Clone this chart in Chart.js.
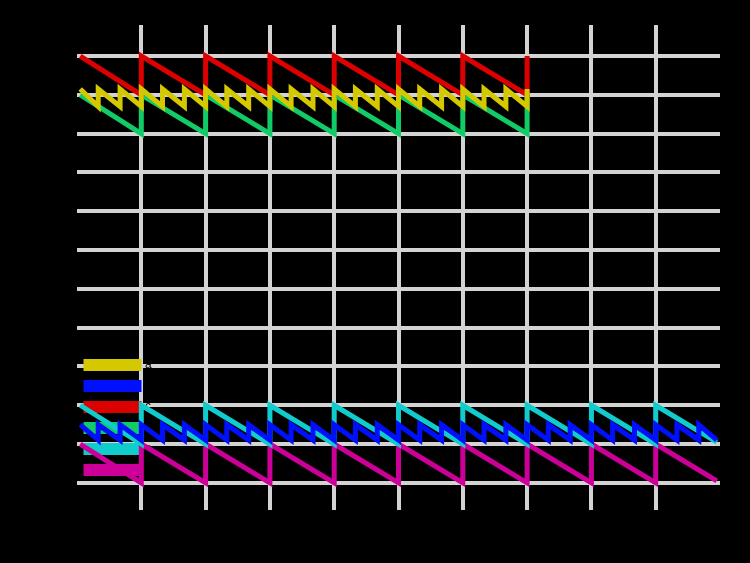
<!DOCTYPE html>
<html>
<head>
<meta charset="utf-8">
<script src="https://cdn.jsdelivr.net/npm/chart.js@4/dist/chart.umd.min.js"></script>
<style>
  html, body { margin: 0; background: #000; }
  #wrap { width: 750px; height: 563px; }
</style>
</head>
<body>
<div id="wrap"><canvas id="c"></canvas></div>
<script>
// sawtooth x positions (one period = 1 unit)
const bigX7  = [0.05,1,1,2,2,3,3,4,4,5,5,6,6,7,7];
const bigX10 = [0.05,1,1,2,2,3,3,4,4,5,5,6,6,7,7,8,8,9,9,9.95];
const smallX7 = [0.05,0.33,0.33,0.67,0.67,1,1,1.33,1.33,1.67,1.67,2,2,2.33,2.33,2.67,2.67,3,3,3.33,3.33,3.67,3.67,4,4,4.33,4.33,4.67,4.67,5,5,5.33,5.33,5.67,5.67,6,6,6.33,6.33,6.67,6.67,7,7];
const smallX10 = [0.05,0.33,0.33,0.67,0.67,1,1,1.33,1.33,1.67,1.67,2,2,2.33,2.33,2.67,2.67,3,3,3.33,3.33,3.67,3.67,4,4,4.33,4.33,4.67,4.67,5,5,5.33,5.33,5.67,5.67,6,6,6.33,6.33,6.67,6.67,7,7,7.33,7.33,7.67,7.67,8,8,8.33,8.33,8.67,8.67,9,9,9.33,9.33,9.67,9.67,9.95];

const redY   = [11,10,11,10,11,10,11,10,11,10,11,10,11,10,11];
const greenY = [10,9,10,9,10,9,10,9,10,9,10,9,10,9,10];
const cyanY    = [2,1,2,1,2,1,2,1,2,1,2,1,2,1,2,1,2,1,2,1.05];
const magentaY = [1,0,1,0,1,0,1,0,1,0,1,0,1,0,1,0,1,0,1,0.05];
const yellowY = [10.15,9.7,10.15,9.7,10.15,9.7,10.15,9.7,10.15,9.7,10.15,9.7,10.15,9.7,10.15,9.7,10.15,9.7,10.15,9.7,10.15,9.7,10.15,9.7,10.15,9.7,10.15,9.7,10.15,9.7,10.15,9.7,10.15,9.7,10.15,9.7,10.15,9.7,10.15,9.7,10.15,9.7,10.15];
const blueY = [1.5,1.1,1.5,1.1,1.5,1.1,1.5,1.1,1.5,1.1,1.5,1.1,1.5,1.1,1.5,1.1,1.5,1.1,1.5,1.1,1.5,1.1,1.5,1.1,1.5,1.1,1.5,1.1,1.5,1.1,1.5,1.1,1.5,1.1,1.5,1.1,1.5,1.1,1.5,1.1,1.5,1.1,1.5,1.1,1.5,1.1,1.5,1.1,1.5,1.1,1.5,1.1,1.5,1.1,1.5,1.1,1.5,1.1,1.5,1.1];

const seriesNames = ["a", "b", "c", "d", "e", "f"];

function pts(xs, ys) {
    return xs.map((x, i) => ({ x, y: ys[i] }));
}

function ds(label, xs, ys, color) {
    return {
        label, data: pts(xs, ys), borderColor: color, backgroundColor: color,
        borderWidth: 5, pointRadius: 0, tension: 0
    };
}

new Chart(document.getElementById("c"), {
    type: "line",
    data: {
        datasets: [
            ds(seriesNames[0], smallX7, yellowY, "#d4c800"),
            ds(seriesNames[1], smallX10, blueY, "#0010ff"),
            ds(seriesNames[2], bigX7, redY, "#dd0000"),
            ds(seriesNames[3], bigX7, greenY, "#11cc66"),
            ds(seriesNames[4], bigX10, cyanY, "#11cccc"),
            ds(seriesNames[5], bigX10, magentaY, "#cc0099")
        ]
    },
    options: {
        responsive: true,
        maintainAspectRatio: false,
        animation: false,
        layout: { padding: { left: 77, right: 30, top: 25, bottom: 53 } },
        plugins: {
            legend: {
                position: "chartArea",
                align: "end",
                labels: { color: "#000", boxWidth: 53, boxHeight: 7, padding: 9 }
            },
            tooltip: { enabled: false }
        },
        scales: {
            x: {
                type: "linear", min: 0, max: 10,
                afterBuildTicks: axis => {
                    axis.ticks = [1,2,3,4,5,6,7,8,9].map(v => ({ value: v }));
                },
                ticks: { display: false },
                border: { display: false },
                grid: { color: "#d3d3d3", lineWidth: 4, drawTicks: false }
            },
            y: {
                min: -0.7, max: 11.8,
                afterBuildTicks: axis => {
                    axis.ticks = [0,1,2,3,4,5,6,7,8,9,10,11].map(v => ({ value: v }));
                },
                ticks: { display: false },
                border: { display: false },
                grid: { color: "#d3d3d3", lineWidth: 4, drawTicks: false }
            }
        }
    }
});
</script>
</body>
</html>
